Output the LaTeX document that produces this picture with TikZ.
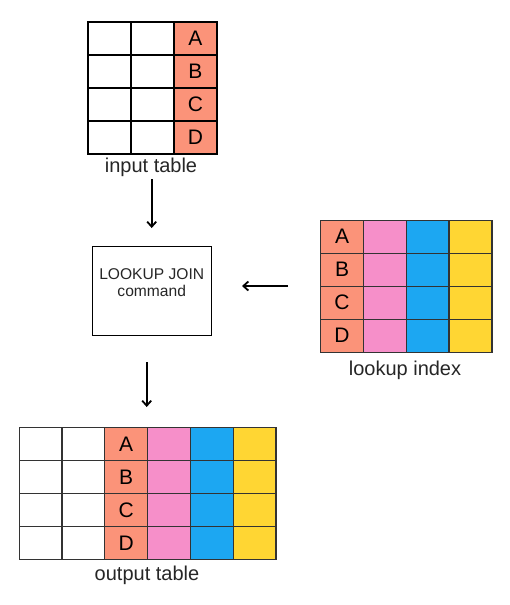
\documentclass[tikz,border=0pt]{standalone}
\usepackage{fontspec}
\setmainfont{Liberation Sans}
\usetikzlibrary{arrows.meta}
\definecolor{salmon}{HTML}{FB9379}
\definecolor{pinkc}{HTML}{F68FC9}
\definecolor{bluec}{HTML}{1CA7F2}
\definecolor{yellowc}{HTML}{FFD633}
\definecolor{gridc}{HTML}{333333}
\tikzset{
  cellA/.style={draw=black, line width=2pt, minimum width=43pt, minimum height=33pt, inner sep=0pt, anchor=north west, font=\fontsize{21}{21}\selectfont},
  cellB/.style={draw=gridc, line width=1.3pt, minimum width=42.8pt, minimum height=33pt, inner sep=0pt, anchor=north west, font=\fontsize{21}{21}\selectfont},
  lbl/.style={font=\fontsize{20}{20}\selectfont, text=black!85},
  arr/.style={line width=1.8pt, -{Straight Barb[length=5pt,width=9pt,line width=1.8pt]}},
}
\begin{document}
\begin{tikzpicture}[x=1pt,y=-1pt]
\useasboundingbox (0,0) rectangle (510,605);
% input table
\foreach \r/\t in {0/A,1/B,2/C,3/D}{
  \node[cellA] (in-\r-0) at (87,21+33*\r) {};
  \node[cellA] (in-\r-1) at (130,21+33*\r) {};
  \node[cellA, fill=salmon] (in-\r-2) at (173,21+33*\r) {\t};
}
\node[lbl] (inlabel) at (151,167) {input table};
% command box
\node[draw=black, line width=1pt, minimum width=118.7pt, minimum height=89.3pt, inner sep=0pt] (cmd) at (151.7,291.3) {};
\node[font=\fontsize{15.6}{17.5}\selectfont, text=black!85, align=center] (cmdtext) at (151.7,282.5) {LOOKUP JOIN\\command};
% lookup index
\foreach \r/\t in {0/A,1/B,2/C,3/D}{
  \node[cellB, fill=salmon] (lk-\r-0) at (320,219.5+33*\r) {\t};
  \node[cellB, fill=pinkc] (lk-\r-1) at (362.8,219.5+33*\r) {};
  \node[cellB, fill=bluec] (lk-\r-2) at (405.6,219.5+33*\r) {};
  \node[cellB, fill=yellowc] (lk-\r-3) at (448.4,219.5+33*\r) {};
}
\node[lbl] (lklabel) at (405,370) {lookup index};
% output table
\foreach \r/\t in {0/A,1/B,2/C,3/D}{
  \node[cellB] (out-\r-0) at (18.5,427+33*\r) {};
  \node[cellB] (out-\r-1) at (61.3,427+33*\r) {};
  \node[cellB, fill=salmon] (out-\r-2) at (104.1,427+33*\r) {\t};
  \node[cellB, fill=pinkc] (out-\r-3) at (146.9,427+33*\r) {};
  \node[cellB, fill=bluec] (out-\r-4) at (189.7,427+33*\r) {};
  \node[cellB, fill=yellowc] (out-\r-5) at (232.5,427+33*\r) {};
}
\node[lbl] (outlabel) at (147,575) {output table};
% arrows
\coordinate (a1s) at (151.7,179);
\coordinate (a1e) at (151.7,228);
\coordinate (a2s) at (288,286);
\coordinate (a2e) at (242,286);
\coordinate (a3s) at (146.7,362);
\coordinate (a3e) at (146.7,407);
\draw[arr] (a1s) -- (a1e);
\draw[arr] (a2s) -- (a2e);
\draw[arr] (a3s) -- (a3e);
\end{tikzpicture}
\end{document}
